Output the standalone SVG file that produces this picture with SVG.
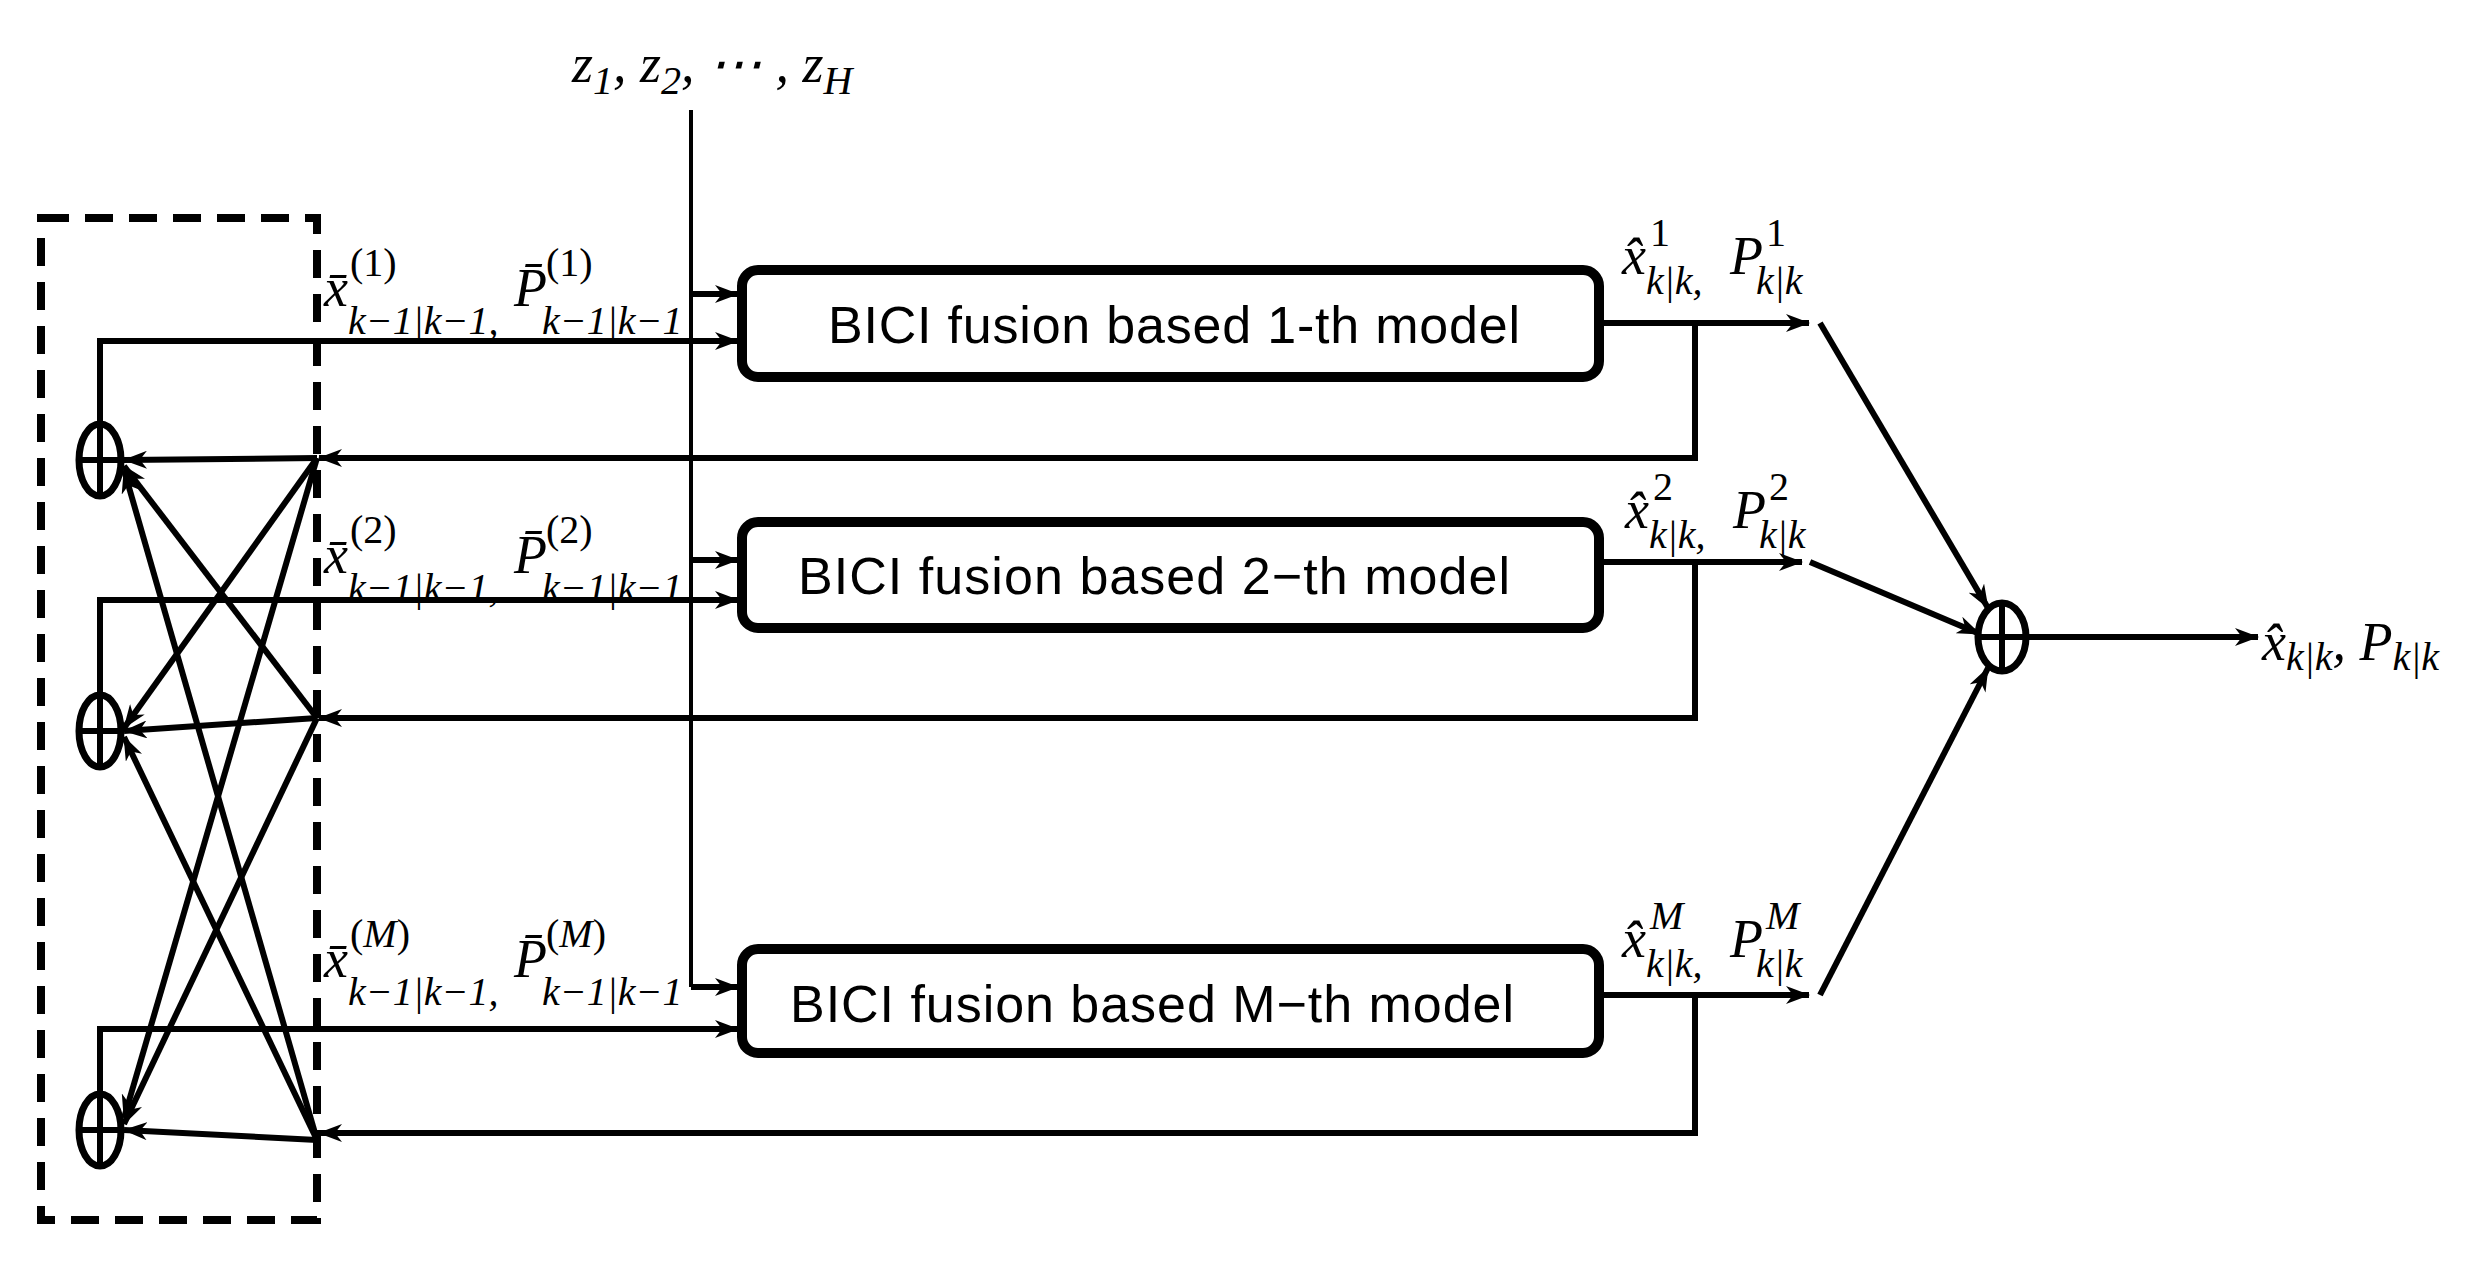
<svg xmlns="http://www.w3.org/2000/svg" width="2465" height="1264" viewBox="0 0 2465 1264">
<style>
.ln{stroke:#000;stroke-width:6;fill:none}
.thin{stroke:#000;stroke-width:4;fill:none}
.box{stroke:#000;stroke-width:10;fill:#fff}
.bt{font-family:"Liberation Sans",sans-serif;font-size:52px}
.m{font-family:"Liberation Serif",serif;font-style:italic;font-size:54px}
.s{font-family:"Liberation Serif",serif;font-style:italic;font-size:40px}
.r{font-family:"Liberation Serif",serif;font-size:40px}
.sum{stroke:#000;stroke-width:7;fill:#fff}
</style>
<defs>
<marker id="a" viewBox="0 0 24 18" refX="23" refY="9" markerWidth="24" markerHeight="18" markerUnits="userSpaceOnUse" orient="auto">
<path d="M0,0 L24,9 L0,18 L7,9 z" fill="#000"/>
</marker>
</defs>
<rect x="41" y="218" width="276" height="1002" fill="none" stroke="#000" stroke-width="8" stroke-dasharray="28,16"/>
<g id="connectors">
<line class="thin" x1="691" y1="110" x2="691" y2="987"/>
<polyline class="ln" points="691,294 738,294" marker-end="url(#a)"/>
<polyline class="ln" points="100,424 100,341 738,341" marker-end="url(#a)"/>
<polyline class="ln" points="691,560 738,560" marker-end="url(#a)"/>
<polyline class="ln" points="100,695 100,600 738,600" marker-end="url(#a)"/>
<polyline class="ln" points="691,987 738,987" marker-end="url(#a)"/>
<polyline class="ln" points="100,1094 100,1029 738,1029" marker-end="url(#a)"/>
<polyline class="ln" points="1601,323 1809,323" marker-end="url(#a)"/>
<polyline class="ln" points="1601,562 1802,562" marker-end="url(#a)"/>
<polyline class="ln" points="1601,995 1809,995" marker-end="url(#a)"/>
<polyline class="ln" points="1695,323 1695,458 319,458" marker-end="url(#a)"/>
<polyline class="ln" points="1695,562 1695,718 319,718" marker-end="url(#a)"/>
<polyline class="ln" points="1695,995 1695,1133 319,1133" marker-end="url(#a)"/>
<line class="ln" x1="317" y1="458" x2="124" y2="460" marker-end="url(#a)"/>
<line class="ln" x1="317" y1="458" x2="124" y2="728" marker-end="url(#a)"/>
<line class="ln" x1="317" y1="458" x2="124" y2="1118" marker-end="url(#a)"/>
<line class="ln" x1="317" y1="718" x2="124" y2="466" marker-end="url(#a)"/>
<line class="ln" x1="317" y1="718" x2="124" y2="731" marker-end="url(#a)"/>
<line class="ln" x1="317" y1="718" x2="124" y2="1124" marker-end="url(#a)"/>
<line class="ln" x1="317" y1="1140" x2="124" y2="470" marker-end="url(#a)"/>
<line class="ln" x1="317" y1="1140" x2="124" y2="737" marker-end="url(#a)"/>
<line class="ln" x1="317" y1="1140" x2="124" y2="1130" marker-end="url(#a)"/>
<line class="ln" x1="1820" y1="323" x2="1988" y2="608" marker-end="url(#a)"/>
<line class="ln" x1="1810" y1="562" x2="1980" y2="634" marker-end="url(#a)"/>
<line class="ln" x1="1820" y1="995" x2="1988" y2="668" marker-end="url(#a)"/>
<line class="ln" x1="2024" y1="637" x2="2258" y2="637" marker-end="url(#a)"/>
</g>
<g id="sum1"><ellipse class="sum" cx="100" cy="460" rx="21" ry="36"/><line class="ln" x1="79" y1="460" x2="121" y2="460"/><line class="ln" x1="100" y1="424" x2="100" y2="496"/></g>
<g id="sum2"><ellipse class="sum" cx="100" cy="731" rx="21" ry="36"/><line class="ln" x1="79" y1="731" x2="121" y2="731"/><line class="ln" x1="100" y1="695" x2="100" y2="767"/></g>
<g id="sum3"><ellipse class="sum" cx="100" cy="1130" rx="21" ry="36"/><line class="ln" x1="79" y1="1130" x2="121" y2="1130"/><line class="ln" x1="100" y1="1094" x2="100" y2="1166"/></g>
<g id="sumOut"><ellipse class="sum" cx="2002" cy="637" rx="24" ry="34"/><line class="ln" x1="1978" y1="637" x2="2026" y2="637"/><line class="ln" x1="2002" y1="603" x2="2002" y2="671"/></g>
<g id="box1"><rect class="box" x="742" y="270" width="857" height="107" rx="16"/><text class="bt" x="828" y="343" textLength="692">BICI fusion based 1-th model</text></g>
<g id="box2"><rect class="box" x="742" y="522" width="857" height="106" rx="16"/><text class="bt" x="798" y="594" textLength="712">BICI fusion based 2−th model</text></g>
<g id="boxM"><rect class="box" x="742" y="949" width="857" height="104" rx="16"/><text class="bt" x="790" y="1022" textLength="724">BICI fusion based M−th model</text></g>
<g id="labels">
<text class="m" x="572" y="82">z<tspan class="r" dy="12">1</tspan><tspan dy="-12">, z</tspan><tspan class="r" dy="12">2</tspan><tspan dy="-12">, ⋯ , z</tspan><tspan class="s" dy="12">H</tspan></text>
<g>
<text class="m" x="324" y="306">x̄</text><text class="r" x="350" y="276">(1)</text><text class="s" x="348" y="334">k−1|k−1,</text>
<text class="m" x="514" y="306">P̄</text><text class="r" x="546" y="276">(1)</text><text class="s" x="542" y="334">k−1|k−1</text>
</g>
<g>
<text class="m" x="324" y="573">x̄</text><text class="r" x="350" y="543">(2)</text><text class="s" x="348" y="601">k−1|k−1,</text>
<text class="m" x="514" y="573">P̄</text><text class="r" x="546" y="543">(2)</text><text class="s" x="542" y="601">k−1|k−1</text>
</g>
<g>
<text class="m" x="324" y="977">x̄</text><text class="r" x="350" y="947">(<tspan class="s">M</tspan>)</text><text class="s" x="348" y="1005">k−1|k−1,</text>
<text class="m" x="514" y="977">P̄</text><text class="r" x="546" y="947">(<tspan class="s">M</tspan>)</text><text class="s" x="542" y="1005">k−1|k−1</text>
</g>
<g>
<text class="m" x="1622" y="274">x̂</text><text class="r" x="1650" y="246">1</text><text class="s" x="1646" y="294">k|k,</text>
<text class="m" x="1730" y="274">P</text><text class="r" x="1766" y="246">1</text><text class="s" x="1756" y="294">k|k</text>
</g>
<g>
<text class="m" x="1625" y="528">x̂</text><text class="r" x="1653" y="500">2</text><text class="s" x="1649" y="548">k|k,</text>
<text class="m" x="1733" y="528">P</text><text class="r" x="1769" y="500">2</text><text class="s" x="1759" y="548">k|k</text>
</g>
<g>
<text class="m" x="1622" y="957">x̂</text><text class="s" x="1650" y="929">M</text><text class="s" x="1646" y="977">k|k,</text>
<text class="m" x="1730" y="957">P</text><text class="s" x="1766" y="929">M</text><text class="s" x="1756" y="977">k|k</text>
</g>
<text class="m" x="2262" y="660">x̂<tspan class="s" dy="10">k|k</tspan><tspan dy="-10">, P</tspan><tspan class="s" dy="10">k|k</tspan></text>
</g>
</svg>
